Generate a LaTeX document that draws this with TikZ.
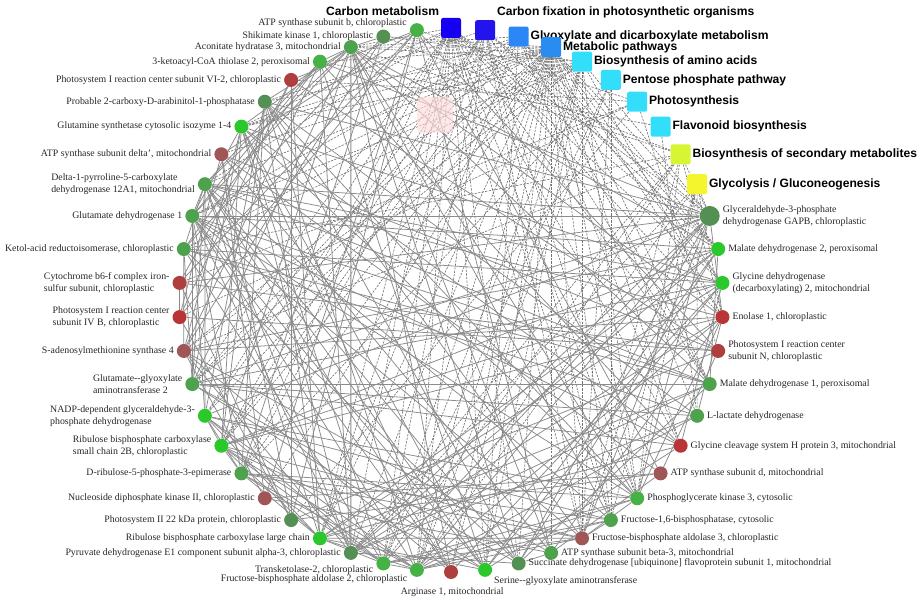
\documentclass[tikz,border=0pt]{standalone}
\usepackage{fontspec}
\setmainfont{Liberation Serif}
\setsansfont{Liberation Sans}
\usetikzlibrary{backgrounds}

% pathway colours
\definecolor{pwA}{RGB}{22,0,242}
\definecolor{pwB}{RGB}{35,20,238}
\definecolor{pwC}{RGB}{42,135,245}
\definecolor{pwD}{RGB}{40,140,240}
\definecolor{pwE}{RGB}{50,222,250}
\definecolor{pwF}{RGB}{215,245,50}
\definecolor{pwG}{RGB}{245,245,45}
% protein colours
\definecolor{gA}{RGB}{42,200,42}
\definecolor{gB}{RGB}{70,178,70}
\definecolor{gC}{RGB}{78,162,78}
\definecolor{gD}{RGB}{84,144,84}
\definecolor{rA}{RGB}{185,52,55}
\definecolor{rB}{RGB}{175,62,62}
\definecolor{rC}{RGB}{160,86,86}

\tikzset{
  pw/.style={rectangle, rounded corners=1.5pt, minimum size=0.5cm, inner sep=0pt},
  prot/.style={circle, inner sep=0pt},
  pwlab/.style={font=\sffamily\bfseries\fontsize{8.6}{10}\selectfont, inner sep=1pt},
  plab/.style={font=\fontsize{7}{8.6}\selectfont, align=left, inner sep=1.8pt, text=black!85},
  sedge/.style={draw=black!45, line width=0.55pt},
  dedge/.style={draw=black!55, line width=0.45pt, dash pattern=on 1.6pt off 0.9pt}
}

\begin{document}
\begin{tikzpicture}[x=0.025cm, y=0.025cm]
  \useasboundingbox (0,0) rectangle (922,599);
  \def\R{272}
  \begin{scope}[shift={(451,299)}]
    % pathways
    \foreach \i/\col/\la/\an/\txt in {
        0/pwA/135/south east/{Carbon metabolism},
        1/pwB/45/south west/{Carbon fixation in photosynthetic organisms},
        2/pwC/0/west/{Glyoxylate and dicarboxylate metabolism},
        3/pwD/0/west/{Metabolic pathways},
        4/pwE/0/west/{Biosynthesis of amino acids},
        5/pwE/0/west/{Pentose phosphate pathway},
        6/pwE/0/west/{Photosynthesis},
        7/pwE/0/west/{Flavonoid biosynthesis},
        8/pwF/0/west/{Biosynthesis of secondary metabolites},
        9/pwG/0/west/{Glycolysis / Gluconeogenesis}}{
      \pgfmathsetmacro\ang{90-7.2*\i}
      \node[pw, fill=\col] (p\i) at (\ang:\R) {};
      \node[pwlab, anchor=\an] (t\i) at (p\i.\la) {\txt};
    }
    % proteins
    \foreach \i/\sz/\col/\la/\an/\txt in {
        10/0.5/gD/0/west/{Glyceraldehyde-3-phosphate\\dehydrogenase GAPB, chloroplastic},
        11/0.35/gA/0/west/{Malate dehydrogenase 2, peroxisomal},
        12/0.35/gA/0/west/{Glycine dehydrogenase\\(decarboxylating) 2, mitochondrial},
        13/0.35/rA/0/west/{Enolase 1, chloroplastic},
        14/0.35/rB/0/west/{Photosystem I reaction center\\subunit N, chloroplastic},
        15/0.35/gC/0/west/{Malate dehydrogenase 1, peroxisomal},
        16/0.35/gC/0/west/{L-lactate dehydrogenase},
        17/0.35/rA/0/west/{Glycine cleavage system H protein 3, mitochondrial},
        18/0.35/rC/0/west/{ATP synthase subunit d, mitochondrial},
        19/0.35/gB/0/west/{Phosphoglycerate kinase 3, cytosolic},
        20/0.35/gC/0/west/{Fructose-1,6-bisphosphatase, cytosolic},
        21/0.35/rC/0/west/{Fructose-bisphosphate aldolase 3, chloroplastic},
        22/0.35/gC/0/west/{ATP synthase subunit beta-3, mitochondrial},
        23/0.35/gD/0/west/{Succinate dehydrogenase [ubiquinone] flavoprotein subunit 1, mitochondrial},
        24/0.35/gA/330/north west/{Serine-{}-glyoxylate aminotransferase},
        25/0.35/rB/280/north/{\rule{0pt}{9pt}Arginase 1, mitochondrial},
        26/0.35/gB/200/north east/{Fructose-bisphosphate aldolase 2, chloroplastic},
        27/0.35/gB/175/north east/{Transketolase-2, chloroplastic},
        28/0.35/gD/180/east/{Pyruvate dehydrogenase E1 component subunit alpha-3, chloroplastic},
        29/0.35/gA/180/east/{Ribulose bisphosphate carboxylase large chain},
        30/0.35/gD/180/east/{Photosystem II 22 kDa protein, chloroplastic},
        31/0.35/rC/180/east/{Nucleoside diphosphate kinase II, chloroplastic},
        32/0.35/gC/180/east/{D-ribulose-5-phosphate-3-epimerase},
        33/0.35/gA/180/east/{Ribulose bisphosphate carboxylase\\small chain 2B, chloroplastic},
        34/0.35/gA/180/east/{NADP-dependent glyceraldehyde-3-\\phosphate dehydrogenase},
        35/0.35/gC/180/east/{Glutamate-{}-glyoxylate\\aminotransferase 2},
        36/0.35/rC/180/east/{S-adenosylmethionine synthase 4},
        37/0.35/rA/180/east/{Photosystem I reaction center\\subunit IV B, chloroplastic},
        38/0.35/rB/180/east/{Cytochrome b6-f complex iron-\\sulfur subunit, chloroplastic},
        39/0.35/gC/180/east/{Ketol-acid reductoisomerase, chloroplastic},
        40/0.35/gC/180/east/{Glutamate dehydrogenase 1},
        41/0.35/gC/180/east/{Delta-1-pyrroline-5-carboxylate\\dehydrogenase 12A1, mitochondrial},
        42/0.35/rC/180/east/{ATP synthase subunit delta', mitochondrial},
        43/0.35/gA/180/east/{Glutamine synthetase cytosolic isozyme 1-4},
        44/0.35/gD/180/east/{Probable 2-carboxy-D-arabinitol-1-phosphatase},
        45/0.35/rB/180/east/{Photosystem I reaction center subunit VI-2, chloroplastic},
        46/0.35/gB/180/east/{3-ketoacyl-CoA thiolase 2, peroxisomal},
        47/0.35/gC/180/east/{Aconitate hydratase 3, mitochondrial},
        48/0.35/gD/180/east/{Shikimate kinase 1, chloroplastic},
        49/0.35/gB/180/south east/{ATP synthase subunit b, chloroplastic}}{
      \pgfmathsetmacro\ang{90-7.2*\i}
      \node[prot, fill=\col, minimum size=\sz cm] (p\i) at (\ang:\R) {};
      \node[plab, anchor=\an] (t\i) at (p\i.\la) {\txt};
    }
  \end{scope}

  % pathway membership (dashed)
  \begin{scope}[on background layer]
    \foreach \pw/\members in {
        0/{10,11,12,13,15,17,19,20,21,23,24,26,27,28,29,32,33,34,35,47,41,43},
        1/{10,11,15,19,20,21,26,27,29,32,33,34,44},
        2/{11,12,15,17,24,29,33,35,43,47,40},
        3/{10,11,12,13,15,16,17,19,20,21,22,23,24,25,26,27,28,29,31,32,33,34,35,36,39,40,41,42,43,44,46,47,48},
        4/{10,13,19,21,24,25,26,27,35,36,39,40,43,47,48},
        5/{20,21,26,27,32},
        6/{14,30,37,38,45,49},
        7/{46,16},
        8/{10,13,19,21,26,27,28,47,48,36,39},
        9/{10,13,16,19,20,21,26,28}}{
      \foreach \m in \members
        \draw[dedge] (p\pw) -- (p\m);
    }
    % protein interactions (solid)
    \foreach \a/\b in {
        10/13,10/19,10/21,10/26,10/27,10/28,10/34,10/40,10/41,10/35,10/23,10/44,10/46,10/38,
        11/15,11/24,11/29,11/33,11/40,11/47,11/36,11/23,11/28,
        12/17,12/24,12/29,12/33,12/43,12/35,12/41,12/25,12/39,
        13/19,13/28,13/36,13/41,13/22,13/47,13/33,13/26,
        14/30,14/37,14/38,14/45,14/49,14/18,14/42,
        15/47,15/23,15/28,15/35,15/40,15/39,15/41,15/29,
        16/28,16/13,16/39,16/35,16/44,16/26,
        17/24,17/29,17/40,17/43,17/46,17/35,
        18/22,18/42,18/49,18/31,18/30,
        19/21,19/26,19/34,19/32,19/27,19/44,19/40,19/43,19/47,
        20/21,20/26,20/32,20/27,20/34,20/47,20/41,
        21/26,21/27,21/32,21/33,21/29,21/44,21/40,
        22/42,22/49,22/23,22/47,22/36,
        23/47,23/28,23/41,23/39,23/35,23/44,
        24/29,24/33,24/43,24/35,24/46,24/40,24/41,
        25/40,25/41,25/36,25/43,25/47,
        26/27,26/32,26/34,26/33,26/29,26/44,26/40,
        27/32,27/34,27/29,27/33,27/39,27/43,
        28/47,28/41,28/40,28/46,28/36,28/43,
        29/33,29/34,29/44,29/32,29/45,29/41,
        30/37,30/38,30/45,30/49,30/42,
        31/42,31/22,31/36,31/49,
        32/34,32/33,32/44,32/48,32/40,
        33/34,33/44,33/43,33/47,
        34/44,34/40,34/41,
        35/43,35/40,35/41,35/39,35/47,
        36/48,36/39,36/46,36/43,
        37/38,37/45,37/49,37/42,
        38/45,38/49,
        39/48,39/41,39/46,
        40/41,40/43,40/47,40/46,
        41/47,41/46,
        42/49,43/47,44/47,46/47,47/48,45/49}
      \draw[sedge] (p\a) -- (p\b);
  \end{scope}

  % faded highlight
  \node[rectangle, rounded corners=3pt, fill=red!14, opacity=0.65, minimum size=0.9cm] (hl) at (435,484) {};
\end{tikzpicture}
\end{document}
